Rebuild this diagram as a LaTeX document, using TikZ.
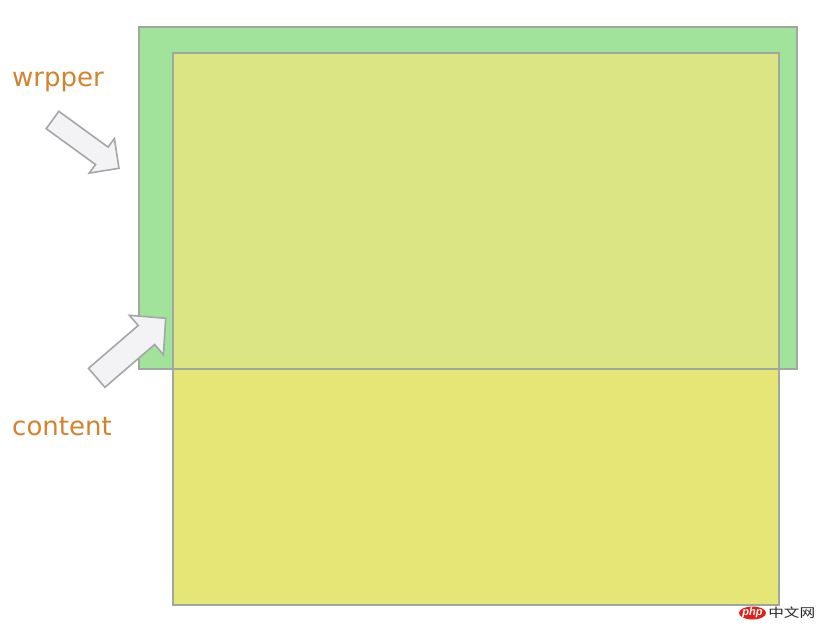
\documentclass[tikz,border=0pt]{standalone}
\usepackage{fontspec}
\usetikzlibrary{shapes.geometric}
\setmainfont{DejaVu Sans}
\newfontfamily\cjkfont{Noto Sans CJK SC}
\newfontfamily\wmfont{Liberation Sans}
\definecolor{boxgreen}{HTML}{A1E39B}
\definecolor{boxmix}{HTML}{DBE584}
\definecolor{boxyellow}{HTML}{E6E676}
\definecolor{edgegray}{HTML}{9EA89E}
\definecolor{labelorange}{HTML}{D4822C}
\definecolor{arrowfill}{HTML}{F3F3F5}
\definecolor{arrowedge}{HTML}{A6A6A8}
\definecolor{wmred}{HTML}{E0201A}
\tikzset{
  boxedge/.style={draw=edgegray, line width=1.5pt},
  blockarrow/.style={draw=arrowedge, fill=arrowfill, line width=1.6pt, line join=miter},
  lbl/.style={text=labelorange, font=\fontsize{26}{30}\selectfont, inner sep=0pt, anchor=base west}
}
\begin{document}
\begin{tikzpicture}[x=1pt, y=-1pt]
\useasboundingbox (0,0) rectangle (830,632);
\fill[white] (0,0) rectangle (830,632);
% fills
\fill[boxgreen] (139,27) rectangle (797,369);
\fill[boxmix] (173,53) rectangle (779,369);
\fill[boxyellow] (173,369) rectangle (779,605);
% borders
\draw[boxedge] (139,27) rectangle (797,369);
\draw[boxedge] (173,53) rectangle (779,605);
% labels
\node[lbl] (wrpper) at (12,86) {wrpper};
\node[lbl] (content) at (12,435) {content};
% block arrows
\draw[blockarrow] (58.8,111.3) -- (108.1,147.1) -- (114.4,138.5) -- (119,168.3) -- (89.2,173.1) -- (95.5,164.5) -- (46.2,128.7) -- cycle;
\draw[blockarrow] (88.5,368.3) -- (138.2,325.5) -- (129.4,315.3) -- (165.7,318.3) -- (163.4,354.7) -- (154.6,344.5) -- (104.9,387.3) -- cycle;
% watermark
\node[ellipse, fill=wmred, minimum width=27pt, minimum height=13pt, inner sep=0pt] (wmlogo) at (752.5,613) {};
\node[text=white, font=\wmfont\bfseries\itshape\fontsize{11}{11}\selectfont, inner sep=0pt] (wmphp) at (752.5,612.5) {php};
\node[text=black!85, font=\cjkfont\fontsize{12.5}{12.5}\selectfont, inner sep=0pt, anchor=west, xscale=1.25] (wmcn) at (768,613) {中文网};
\end{tikzpicture}
\end{document}
